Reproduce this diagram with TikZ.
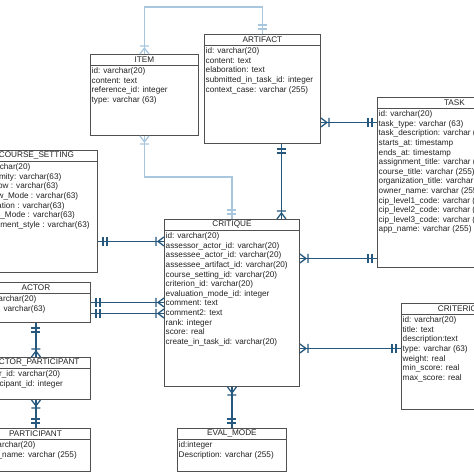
\documentclass[tikz,border=0pt]{standalone}
\usepackage{fontspec}
\setmainfont{Liberation Sans}
\usepackage{xcolor}
\usetikzlibrary{arrows.meta, positioning, calc}
\definecolor{linkdark}{RGB}{38,88,126}
\definecolor{linklight}{RGB}{168,198,222}
\definecolor{boxline}{RGB}{80,80,80}
\definecolor{txt}{RGB}{35,35,35}

% crow's foot with bar (one or many)
\pgfdeclarearrow{
    name = ermany,
    parameters = {\the\pgfarrowlinewidth},
    setup code = {
        \pgfarrowssettipend{0pt}
        \pgfarrowssetlineend{0pt}
        \pgfarrowssetbackend{-9pt}
        \pgfarrowssetvisualbackend{-9pt}
        \pgfarrowsupperhullpoint{0pt}{4.5pt}
        \pgfarrowsupperhullpoint{-9pt}{4.5pt}
    },
    drawing code = {
        \pgfsetdash{}{0pt}
        \pgfsetbuttcap
        \pgfpathmoveto{\pgfqpoint{0pt}{4.5pt}}
        \pgfpathlineto{\pgfqpoint{-6pt}{0pt}}
        \pgfpathlineto{\pgfqpoint{0pt}{-4.5pt}}
        \pgfpathmoveto{\pgfqpoint{-8pt}{4.5pt}}
        \pgfpathlineto{\pgfqpoint{-8pt}{-4.5pt}}
        \pgfusepathqstroke
    }
}
% double bar (exactly one)
\pgfdeclarearrow{
    name = erone,
    parameters = {\the\pgfarrowlinewidth},
    setup code = {
        \pgfarrowssettipend{0pt}
        \pgfarrowssetlineend{0pt}
        \pgfarrowssetbackend{-10pt}
        \pgfarrowssetvisualbackend{-10pt}
        \pgfarrowsupperhullpoint{0pt}{4.5pt}
        \pgfarrowsupperhullpoint{-10pt}{4.5pt}
    },
    drawing code = {
        \pgfsetdash{}{0pt}
        \pgfsetbuttcap
        \pgfpathmoveto{\pgfqpoint{-5pt}{4.5pt}}
        \pgfpathlineto{\pgfqpoint{-5pt}{-4.5pt}}
        \pgfpathmoveto{\pgfqpoint{-9pt}{4.5pt}}
        \pgfpathlineto{\pgfqpoint{-9pt}{-4.5pt}}
        \pgfusepathqstroke
    }
}

\tikzset{
    entity/.style={draw=boxline, line width=0.9pt, fill=white, anchor=north west, inner sep=0pt}
}

\begin{document}
\begin{tikzpicture}[x=1pt, y=-1pt,
    ttl/.style={font=\fontsize{8.2}{9.6}\selectfont, text=txt, inner sep=0pt, minimum height=11pt},
    attrs/.style={font=\fontsize{8.2}{9.6}\selectfont, text=txt, align=left, anchor=north west, inner xsep=1.5pt, inner ysep=2.5pt},
    dark/.style={draw=linkdark, line width=1.3pt},
    light/.style={draw=linklight, line width=1.3pt}
]
\useasboundingbox (0,0) rectangle (474,474);
\clip (0,0) rectangle (474,474);

% Tables with title bars
\foreach \nm/\xa/\ya/\w/\h/\ttl in {
    item/90/54/108/81/ITEM,
    artifact/204/34/116/109/ARTIFACT,
    task/377/97/154/170/TASK,
    course/-25/150/122/122/COURSE\_SETTING,
    actor/-19/282/109/40/ACTOR,
    actpart/-18/357/108/42/ACTOR\_PARTICIPANT,
    participant/-20/428/110/43/PARTICIPANT,
    critique/164/219/135/167/CRITIQUE,
    evalmode/177/428/109/43/EVAL\_MODE,
    criterion/401/303/118/106/CRITERION} {
    \node[entity, minimum width=\w, minimum height=\h] (\nm) at (\xa,\ya) {};
    \draw[boxline, line width=0.9pt] ([yshift=-11pt]\nm.north west) -- ([yshift=-11pt]\nm.north east);
    \node[ttl, below=0pt of \nm.north] (\nm-title) {\ttl};
}

% Columns
\node[attrs] (item-attrs) at ([yshift=-11pt]item.north west)
    {id: varchar(20)\\content: text\\reference\_id: integer\\type: varchar (63)};
\node[attrs] (artifact-attrs) at ([yshift=-11pt]artifact.north west)
    {id: varchar(20)\\content: text\\elaboration: text\\submitted\_in\_task\_id: integer\\context\_case: varchar (255)};
\node[attrs] (task-attrs) at ([yshift=-11pt]task.north west)
    {id: varchar(20)\\task\_type: varchar (63)\\task\_description: varchar (255)\\starts\_at: timestamp\\ends\_at: timestamp\\
     assignment\_title: varchar (255)\\course\_title: varchar (255)\\organization\_title: varchar (255)\\owner\_name: varchar (255)\\
     cip\_level1\_code: varchar (63)\\cip\_level2\_code: varchar (63)\\cip\_level3\_code: varchar (63)\\app\_name: varchar (255)};
\node[attrs] (course-attrs) at ([yshift=-11pt]course.north west)
    {id: varchar(20)\\anonymity: varchar(63)\\workflow : varchar(63)\\Review\_Mode : varchar(63)\\Evaluation : varchar(63)\\
     Rubric\_Mode : varchar(63)\\assignment\_style : varchar(63)};
\node[attrs] (actor-attrs) at ([yshift=-11pt]actor.north west)
    {id: varchar(20)\\type: varchar(63)};
\node[attrs] (actpart-attrs) at ([yshift=-11pt]actpart.north west)
    {actor\_id: varchar(20)\\participant\_id: integer};
\node[attrs] (participant-attrs) at ([yshift=-11pt]participant.north west)
    {id: varchar(20)\\user\_name: varchar (255)};
\node[attrs] (critique-attrs) at ([yshift=-11pt]critique.north west)
    {id: varchar(20)\\assessor\_actor\_id: varchar(20)\\assessee\_actor\_id: varchar(20)\\assessee\_artifact\_id: varchar(20)\\
     course\_setting\_id: varchar(20)\\criterion\_id: varchar(20)\\evaluation\_mode\_id: integer\\comment: text\\comment2: text\\
     rank: integer\\score: real\\create\_in\_task\_id: varchar(20)};
\node[attrs] (evalmode-attrs) at ([yshift=-11pt]evalmode.north west)
    {id:integer\\Description: varchar (255)};
\node[attrs] (criterion-attrs) at ([yshift=-11pt]criterion.north west)
    {id: varchar(20)\\title: text\\description:text\\type: varchar (63)\\weight: real\\min\_score: real\\max\_score: real};

% Item links
\draw[light, {ermany}-{erone}] (item.north) -- ++(0,-47) -| (artifact.north);
\draw[light, {ermany}-{erone}] (item.south) -- ++(0,41) -| (critique.north);

% Relations to critique
\coordinate (art-crit) at ([xshift=19pt]artifact.south);
\draw[dark, {erone}-{ermany}] (art-crit) -- (art-crit |- critique.north);
\coordinate (art-task) at ([yshift=-33.5pt]artifact.east);
\draw[dark, {ermany}-{erone}] (art-task) -- (art-task -| task.west);
\coordinate (course-crit) at ([yshift=-30pt]course.east);
\draw[dark, {erone}-{ermany}] (course-crit) -- (course-crit -| critique.west);
\draw[dark, {erone}-{ermany}] (actor.east) -- (actor.east -| critique.west);
\coordinate (actor-crit) at ([yshift=-11pt]actor.east);
\draw[dark, {erone}-{ermany}] (actor-crit) -- (actor-crit -| critique.west);
\coordinate (crit-task) at ([yshift=44.5pt]critique.east);
\draw[dark, {ermany}-{erone}] (crit-task) -- (crit-task -| task.west);
\coordinate (crit-criterion) at ([yshift=-45.5pt]critique.east);
\draw[dark, {ermany}-{erone}] (crit-criterion) -- (crit-criterion -| criterion.west);
\draw[dark, {ermany}-{erone}] (critique.south) -- (critique.south |- evalmode.north);

% Actor and participant
\draw[dark, {erone}-{ermany}] (actor.south) -- (actor.south |- actpart.north);
\coordinate (part-link) at (actor.south |- actpart.south);
\draw[dark, {ermany}-{erone}] (part-link) -- (part-link |- participant.north);

\end{tikzpicture}
\end{document}
